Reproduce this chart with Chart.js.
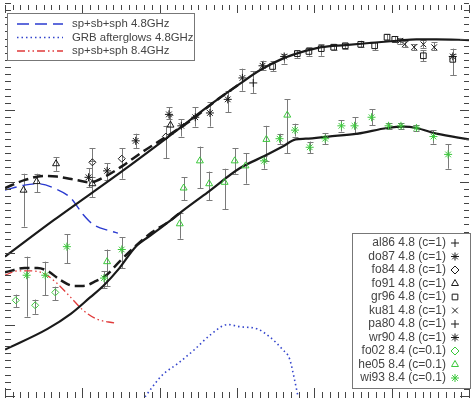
<!DOCTYPE html>
<html>
<head>
<meta charset="utf-8">
<script src="https://cdn.jsdelivr.net/npm/chart.js@4/dist/chart.umd.min.js"></script>
<style>
  html, body { margin: 0; padding: 0; background: #fff; }
  #wrap { width: 474px; height: 403px; }
</style>
</head>
<body>
<div id="wrap"><canvas id="lcChart"></canvas></div>
<script>
// --- model curves (x = log time, y = log flux) ---
const fit48X = [0, 0.63, 1.52, 2.03, 2.70, 3.04, 3.30, 3.59, 3.80, 4.09, 4.40, 4.73, 5.07, 5.32, 5.58, 6.0];
const fit48Y = [1.95, 2.46, 3.15, 3.56, 4.11, 4.37, 4.56, 4.72, 4.80, 4.88, 4.91, 4.94, 4.97, 4.99, 4.99, 4.98];
const sum48X = [0, 0.25, 0.51, 0.67, 0.93, 1.10, 1.31, 1.52, 1.77, 2.03, 2.41, 2.70, 3.04];
const sum48Y = [2.91, 3.02, 3.08, 3.07, 3.02, 2.99, 3.08, 3.22, 3.41, 3.59, 3.86, 4.11, 4.37];
const sph48X = [0, 0.25, 0.42, 0.63, 0.85, 1.01, 1.14, 1.36, 1.46];
const sph48Y = [2.88, 2.95, 2.97, 2.91, 2.77, 2.54, 2.40, 2.31, 2.28];
const grbX = [1.81, 2.03, 2.24, 2.45, 2.66, 2.88, 3.04, 3.26, 3.42, 3.59, 3.68, 3.74, 3.79];
const grbY = [-0.01, 0.29, 0.46, 0.65, 0.86, 1.00, 0.97, 0.94, 0.83, 0.65, 0.52, 0.25, -0.01];
const fit84X = [0, 0.55, 0.85, 1.10, 1.27, 1.48, 1.69, 1.90, 2.12, 2.26, 2.62, 3.04, 3.36, 3.59, 3.76, 3.89, 4.18, 4.56, 4.94, 5.16, 5.32, 5.58, 6.0];
const fit84Y = [0.65, 0.94, 1.15, 1.38, 1.54, 1.79, 2.09, 2.26, 2.44, 2.56, 2.85, 3.19, 3.36, 3.49, 3.59, 3.60, 3.63, 3.67, 3.75, 3.77, 3.75, 3.67, 3.59];
const sum84X = [0, 0.25, 0.42, 0.55, 0.72, 0.89, 1.01, 1.18, 1.31, 1.48, 1.69, 1.90, 2.12, 2.28];
const sum84Y = [1.73, 1.79, 1.79, 1.75, 1.62, 1.54, 1.54, 1.61, 1.69, 1.88, 2.10, 2.29, 2.44, 2.58];
const sph84X = [0, 0.16, 0.34, 0.51, 0.67, 0.85, 1.01, 1.18, 1.42];
const sph84Y = [1.69, 1.75, 1.75, 1.71, 1.58, 1.38, 1.20, 1.08, 1.02];

// --- observations: x, y, lower / upper error ---
const al86X = [3.21], al86Y = [4.38], al86Lo = [4.24], al86Hi = [4.54];
const do87X = [1.08, 1.32, 1.69, 2.12, 2.28, 2.46, 2.65, 2.88];
const do87Y = [3.06, 3.15, 3.57, 3.94, 3.78, 3.90, 3.96, 4.15];
const do87Lo = [2.92, 3.02, 3.47, 3.87, 3.63, 3.77, 3.77, 3.97];
const do87Hi = [3.19, 3.26, 3.67, 4.04, 3.87, 4.04, 4.11, 4.27];
const fo84X = [1.13, 1.51, 2.08], fo84Y = [3.27, 3.32, 3.63];
const fo84Lo = [3.06, 3.04, 3.33], fo84Hi = [3.47, 3.47, 3.78];
const fo91X = [0.24, 0.41, 0.66, 1.13, 2.14], fo91Y = [2.88, 3.00, 3.25, 2.97, 3.79];
const fo91Lo = [2.37, 2.85, 3.15, 2.78, 3.66], fo91Hi = [3.11, 3.11, 3.34, 3.29, 3.93];
const gr96X = [3.46, 3.78, 3.93, 4.09, 4.25, 4.40, 4.60, 4.78, 4.94, 5.04, 5.41, 5.79];
const gr96Y = [4.61, 4.79, 4.82, 4.86, 4.88, 4.90, 4.92, 4.90, 5.02, 4.99, 4.76, 4.71];
const gr96Lo = [4.54, 4.73, 4.76, 4.76, 4.84, 4.86, 4.88, 4.84, 4.98, 4.95, 4.68, 4.49];
const gr96Hi = [4.68, 4.84, 4.88, 4.92, 4.92, 4.94, 4.97, 4.95, 5.06, 5.03, 4.84, 4.79];
const ku81X = [5.11, 5.17, 5.29, 5.41, 5.55], ku81Y = [4.97, 4.92, 4.88, 4.92, 4.88];
const ku81Lo = [4.93, 4.88, 4.84, 4.87, 4.84], ku81Hi = [5.01, 4.97, 4.92, 4.98, 4.95];
const pa80X = [], pa80Y = [], pa80Lo = [], pa80Hi = [];
const wr90X = [3.07, 3.33, 3.61, 5.79], wr90Y = [4.45, 4.62, 4.75, 4.75];
const wr90Lo = [4.27, 4.56, 4.65, 4.49], wr90Hi = [4.58, 4.69, 4.79, 4.86];
const fo02X = [0.14, 0.39, 0.65], fo02Y = [1.34, 1.27, 1.45];
const fo02Lo = [1.24, 1.15, 1.34], fo02Hi = [1.42, 1.35, 1.53];
const he05X = [1.32, 2.26, 2.31, 2.52, 2.64, 2.84, 2.97, 3.11, 3.38, 3.65];
const he05Y = [1.88, 2.41, 2.91, 3.29, 2.97, 2.99, 3.29, 3.22, 3.59, 3.93];
const he05Lo = [1.54, 2.20, 2.74, 2.91, 2.74, 2.61, 3.11, 2.97, 3.29, 3.40];
const he05Hi = [2.05, 2.56, 3.06, 3.49, 3.14, 3.18, 3.47, 3.40, 3.78, 4.15];
const wi93X = [0.28, 0.52, 0.80, 1.28, 1.51, 3.35, 3.55, 3.75, 3.94, 4.14, 4.35, 4.52, 4.74, 4.96, 5.12, 5.32, 5.54, 5.73];
const wi93Y = [1.69, 1.69, 2.09, 1.65, 2.05, 3.29, 3.60, 3.72, 3.48, 3.60, 3.78, 3.78, 3.90, 3.78, 3.78, 3.75, 3.63, 3.38];
const wi93Lo = [1.11, 1.41, 1.86, 1.51, 1.79, 3.18, 3.52, 3.63, 3.40, 3.52, 3.70, 3.66, 3.79, 3.74, 3.74, 3.71, 3.53, 3.18];
const wi93Hi = [1.95, 1.88, 2.26, 1.75, 2.22, 3.36, 3.67, 3.81, 3.56, 3.68, 3.86, 3.90, 4.01, 3.82, 3.82, 3.79, 3.72, 3.52];

const curveLabels = ['sp+sb+sph 4.8GHz', 'GRB afterglows 4.8GHz', 'sp+sb+sph 8.4GHz'];
const xRange = [0, 6.0];
const yRange = [-0.027, 5.47];

const BLACK = '#1a1a1a';
const GREEN = '#3cc83c';
const FONT = '"Liberation Sans", Arial, sans-serif';

function pts(xs, ys) {
    return xs.map((x, i) => ({ x: x, y: ys[i] }));
}

function curve(xs, ys, color, width, dash, label, legend) {
    return {
        label: label || '',
        data: pts(xs, ys),
        showLine: true,
        borderColor: color,
        borderWidth: width,
        borderDash: dash,
        pointRadius: 0,
        fill: false,
        cubicInterpolationMode: 'monotone',
        order: 2,
        legendTop: legend || false
    };
}

function obs(label, xs, ys, lo, hi, style, color, r) {
    return {
        label: label,
        data: pts(xs, ys),
        showLine: false,
        pointStyle: style,
        pointRadius: r || 4,
        borderColor: color,
        backgroundColor: 'rgba(0,0,0,0)',
        pointBorderWidth: 1,
        errLo: lo,
        errHi: hi,
        order: 1,
        legendRight: true
    };
}

// error bars, drawn through the scales
const errorBarPlugin = {
    id: 'errorBars',
    beforeDatasetsDraw(chart) {
        const ctx = chart.ctx;
        const xs = chart.scales.x, ys = chart.scales.y;
        ctx.save();
        ctx.strokeStyle = '#7a7a7a';
        ctx.lineWidth = 1;
        chart.data.datasets.forEach(ds => {
            if (!ds.errLo) return;
            ds.data.forEach((p, i) => {
                const px = Math.round(xs.getPixelForValue(p.x)) + 0.5;
                const y1 = ys.getPixelForValue(ds.errLo[i]);
                const y2 = ys.getPixelForValue(ds.errHi[i]);
                ctx.beginPath();
                ctx.moveTo(px, y1); ctx.lineTo(px, y2);
                ctx.moveTo(px - 3, Math.round(y1) + 0.5); ctx.lineTo(px + 3, Math.round(y1) + 0.5);
                ctx.moveTo(px - 3, Math.round(y2) + 0.5); ctx.lineTo(px + 3, Math.round(y2) + 0.5);
                ctx.stroke();
            });
        });
        ctx.restore();
    }
};

// inward tick marks on all four sides
const frameTicksPlugin = {
    id: 'frameTicks',
    afterDraw(chart) {
        const ctx = chart.ctx;
        const a = chart.chartArea;
        const xs = chart.scales.x, ys = chart.scales.y;
        ctx.save();
        ctx.strokeStyle = '#444';
        ctx.lineWidth = 1;
        ctx.beginPath();
        for (let k = 0; k <= 60; k++) {
            const v = k / 10;
            const px = Math.round(xs.getPixelForValue(v)) + 0.5;
            const major = k % 10 === 0;
            ctx.moveTo(px, a.top); ctx.lineTo(px, a.top + (major ? 8 : 5));
            ctx.moveTo(px, a.bottom); ctx.lineTo(px, a.bottom - (major ? 10 : 6));
        }
        for (let k = 0; k <= 55; k++) {
            const v = k / 10;
            const py = Math.round(ys.getPixelForValue(v)) + 0.5;
            const major = k % 10 === 0;
            ctx.moveTo(a.left, py); ctx.lineTo(a.left + (major ? 10 : 6), py);
            ctx.moveTo(a.right, py); ctx.lineTo(a.right - (major ? 9 : 5), py);
        }
        ctx.stroke();
        ctx.restore();
    }
};

// the two IDL-style legend boxes
const boxLegendPlugin = {
    id: 'boxLegends',
    afterDraw(chart) {
        const ctx = chart.ctx;
        ctx.save();
        ctx.textBaseline = 'middle';

        // top-left box: model curves
        ctx.font = '11.4px ' + FONT;
        const top = chart.data.datasets.filter(d => d.legendTop);
        ctx.fillStyle = '#fff';
        ctx.fillRect(7.5, 13.5, 187, 47);
        ctx.strokeStyle = '#777';
        ctx.lineWidth = 1;
        ctx.setLineDash([]);
        ctx.strokeRect(7.5, 13.5, 187, 47);
        top.forEach((ds, i) => {
            const y = 24 + i * 13.5;
            ctx.beginPath();
            ctx.strokeStyle = ds.borderColor;
            ctx.lineWidth = ds.borderWidth;
            ctx.setLineDash(ds.borderDash || []);
            ctx.moveTo(17, y); ctx.lineTo(63, y);
            ctx.stroke();
            ctx.setLineDash([]);
            ctx.fillStyle = '#444';
            ctx.textAlign = 'left';
            ctx.fillText(ds.label, 72, y);
        });

        // bottom-right box: observations
        ctx.font = '12px ' + FONT;
        const right = chart.data.datasets.filter(d => d.legendRight);
        ctx.fillStyle = '#fff';
        ctx.fillRect(352.5, 233.5, 118, 155);
        ctx.strokeStyle = '#777';
        ctx.lineWidth = 1;
        ctx.strokeRect(352.5, 233.5, 118, 155);
        right.forEach((ds, i) => {
            const y = 243 + i * 13.5;
            ctx.fillStyle = '#444';
            ctx.textAlign = 'right';
            ctx.fillText(ds.label, 446, y);
            ctx.strokeStyle = ds.borderColor;
            ctx.fillStyle = 'rgba(0,0,0,0)';
            ctx.lineWidth = 1;
            Chart.helpers.drawPoint(ctx, { pointStyle: ds.pointStyle, radius: 4, rotation: 0, borderWidth: 1 }, 455, y);
        });
        ctx.restore();
    }
};

const datasets = [
    obs('al86 4.8 (c=1)', al86X, al86Y, al86Lo, al86Hi, 'cross', BLACK),
    obs('do87 4.8 (c=1)', do87X, do87Y, do87Lo, do87Hi, 'star', BLACK),
    obs('fo84 4.8 (c=1)', fo84X, fo84Y, fo84Lo, fo84Hi, 'rectRot', BLACK, 3.5),
    obs('fo91 4.8 (c=1)', fo91X, fo91Y, fo91Lo, fo91Hi, 'triangle', BLACK),
    obs('gr96 4.8 (c=1)', gr96X, gr96Y, gr96Lo, gr96Hi, 'rect', BLACK),
    obs('ku81 4.8 (c=1)', ku81X, ku81Y, ku81Lo, ku81Hi, 'crossRot', BLACK),
    obs('pa80 4.8 (c=1)', pa80X, pa80Y, pa80Lo, pa80Hi, 'cross', BLACK),
    obs('wr90 4.8 (c=1)', wr90X, wr90Y, wr90Lo, wr90Hi, 'star', BLACK),
    obs('fo02 8.4 (c=0.1)', fo02X, fo02Y, fo02Lo, fo02Hi, 'rectRot', GREEN, 3.5),
    obs('he05 8.4 (c=0.1)', he05X, he05Y, he05Lo, he05Hi, 'triangle', GREEN),
    obs('wi93 8.4 (c=0.1)', wi93X, wi93Y, wi93Lo, wi93Hi, 'star', GREEN),
    curve(fit48X, fit48Y, BLACK, 2.2, []),
    curve(sum48X, sum48Y, BLACK, 2.5, [10, 5]),
    curve(sph48X, sph48Y, '#2b3bd0', 1.4, [12, 6], curveLabels[0], true),
    curve(grbX, grbY, '#3344cc', 1.6, [1.5, 3], curveLabels[1], true),
    curve(fit84X, fit84Y, BLACK, 2.2, []),
    curve(sum84X, sum84Y, BLACK, 2.5, [10, 5]),
    curve(sph84X, sph84Y, '#e03a3a', 1.3, [8, 3, 1.5, 3, 1.5, 3], curveLabels[2], true)
];

const chartEl = document.getElementById('lcChart');
const lcChart = new Chart(chartEl.getContext('2d'), {
    type: 'scatter',
    data: { datasets: datasets },
    options: {
        responsive: true,
        maintainAspectRatio: false,
        animation: false,
        layout: { padding: 0 },
        scales: {
            x: { type: 'linear', min: xRange[0], max: xRange[1], display: false },
            y: { type: 'linear', min: yRange[0], max: yRange[1], display: false }
        },
        plugins: {
            legend: { display: false },
            tooltip: { enabled: false }
        }
    },
    plugins: [errorBarPlugin, frameTicksPlugin, boxLegendPlugin]
});
</script>
</body>
</html>
